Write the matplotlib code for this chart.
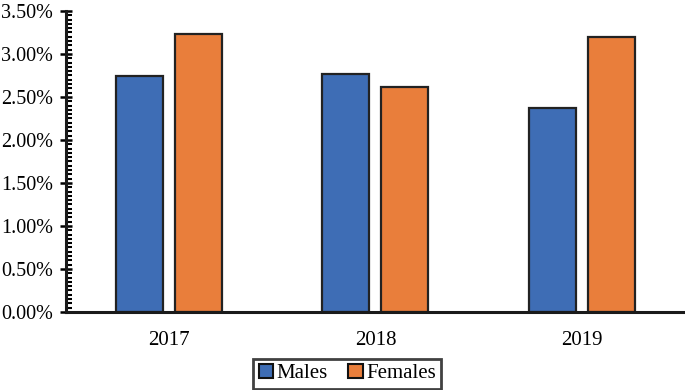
import matplotlib
matplotlib.use("Agg")
import matplotlib.pyplot as plt
import numpy as np
from matplotlib.ticker import MultipleLocator, FuncFormatter
from matplotlib.patches import Patch

years = ["2017", "2018", "2019"]
males = [2.74, 2.77, 2.37]
females = [3.23, 2.62, 3.20]
series_names = ["Males", "Females"]

plt.rcParams['font.family'] = ['Liberation Serif', 'DejaVu Serif']

fig = plt.figure(figsize=(6.85, 3.9), dpi=100)
ax = fig.add_axes([0.096, 0.2, 0.904, 0.772])

x = np.arange(len(years))
w = 0.228
off = 0.143
c_m = "#3E6DB5"
c_f = "#E97E3B"
ax.bar(x - off, males, w, color=c_m, edgecolor="#222222", linewidth=1.6)
ax.bar(x + off, females, w, color=c_f, edgecolor="#222222", linewidth=1.6)

ax.set_xlim(-0.5, 2.5)
ax.set_ylim(0, 3.5)
ax.set_xticks(x)
ax.set_xticklabels(years, fontsize=15)
ax.yaxis.set_major_locator(MultipleLocator(0.5))
ax.yaxis.set_minor_locator(MultipleLocator(0.05))
ax.yaxis.set_major_formatter(FuncFormatter(lambda v, p: f"{v:.2f}%"))
ax.tick_params(axis='y', which='major', direction='inout', length=8, width=1.8, labelsize=14.5, pad=5)
ax.tick_params(axis='y', which='minor', direction='in', length=4, width=1.5)
ax.tick_params(axis='x', length=0, pad=14)
for s in ["top", "right"]:
    ax.spines[s].set_visible(False)
for s in ["left", "bottom"]:
    ax.spines[s].set_linewidth(2.2)
    ax.spines[s].set_color("#1a1a1a")

handles = [Patch(facecolor=c_m, edgecolor="#111111", linewidth=1.5),
           Patch(facecolor=c_f, edgecolor="#111111", linewidth=1.5)]
leg = fig.legend(handles, series_names, loc="center", bbox_to_anchor=(0.507, 0.042),
                 ncol=2, fontsize=15, frameon=True, fancybox=False,
                 handlelength=0.7, handleheight=0.7, handletextpad=0.15,
                 columnspacing=1.0, borderpad=0.25, borderaxespad=0)
leg.get_frame().set_edgecolor("#111111")
leg.get_frame().set_linewidth(2)

fig.savefig("out.png", dpi=100)
